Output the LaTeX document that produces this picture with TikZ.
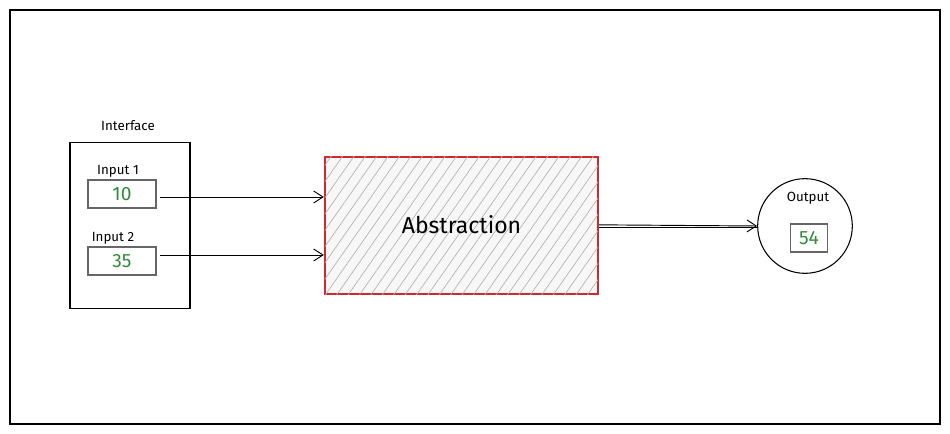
\documentclass[tikz,border=0pt]{standalone}
\usepackage{fontspec}
\setmainfont{Fira Sans}
\usetikzlibrary{patterns.meta,arrows.meta}
\definecolor{grn}{HTML}{2F8A3A}
\definecolor{redb}{HTML}{D0282E}
\tikzset{
  lbl/.style={font=\normalsize},
  valbox/.style={draw=black!60, line width=0.8pt, minimum width=51pt, minimum height=21pt, inner sep=0pt, text=grn, font=\Large},
  conn/.style={draw=black, -{Straight Barb[length=7pt,width=9pt]}, line width=0.7pt}
}
\begin{document}
\begin{tikzpicture}[x=0.75pt,y=-0.75pt]
\useasboundingbox (0,0) rectangle (950,434);
\draw[line width=0.8pt] (10,10) rectangle (940,424);
\node[draw, line width=0.8pt, minimum width=90pt, minimum height=124pt, inner sep=0pt] (iface) at (130,225.5) {};
\node[lbl] (ilab) at (128,126) {Interface};
\node[lbl] (in1l) at (118,171) {Input 1};
\node[valbox] (in1) at (122,194) {10};
\node[lbl] (in2l) at (113,238) {Input 2};
\node[valbox] (in2) at (122,261) {35};
\node[draw=redb, line width=1.5pt, fill=black!3, postaction={pattern={Lines[angle=55,distance=7pt,line width=0.5pt]}, pattern color=black!30}, minimum width=205pt, minimum height=103pt, inner sep=0pt] (abs) at (461.5,225.5) {};
\node[font=\LARGE] (abst) at (461.5,225) {Abstraction};
\node[draw, circle, line width=0.8pt, minimum size=71pt, inner sep=0pt] (out) at (805,226) {};
\node[lbl] (outl) at (808,198) {Output};
\node[valbox, minimum width=28pt] (o54) at (809,238) {54};
\coordinate (s1) at (160,197); \coordinate (e1) at (abs.west |- s1);
\coordinate (s2) at (160,255); \coordinate (e2) at (abs.west |- s2);
\draw[conn] (s1) -- (e1);
\draw[conn] (s2) -- (e2);
\coordinate (s3) at ([yshift=-1.5pt]abs.east);
\coordinate (s4) at ([yshift=0.5pt]abs.east);
\coordinate (e3) at (out.west);
\draw[line width=0.6pt, black] (s3) -- ([yshift=-1.2pt]e3);
\draw[conn] (s4) -- (e3);
\end{tikzpicture}
\end{document}
